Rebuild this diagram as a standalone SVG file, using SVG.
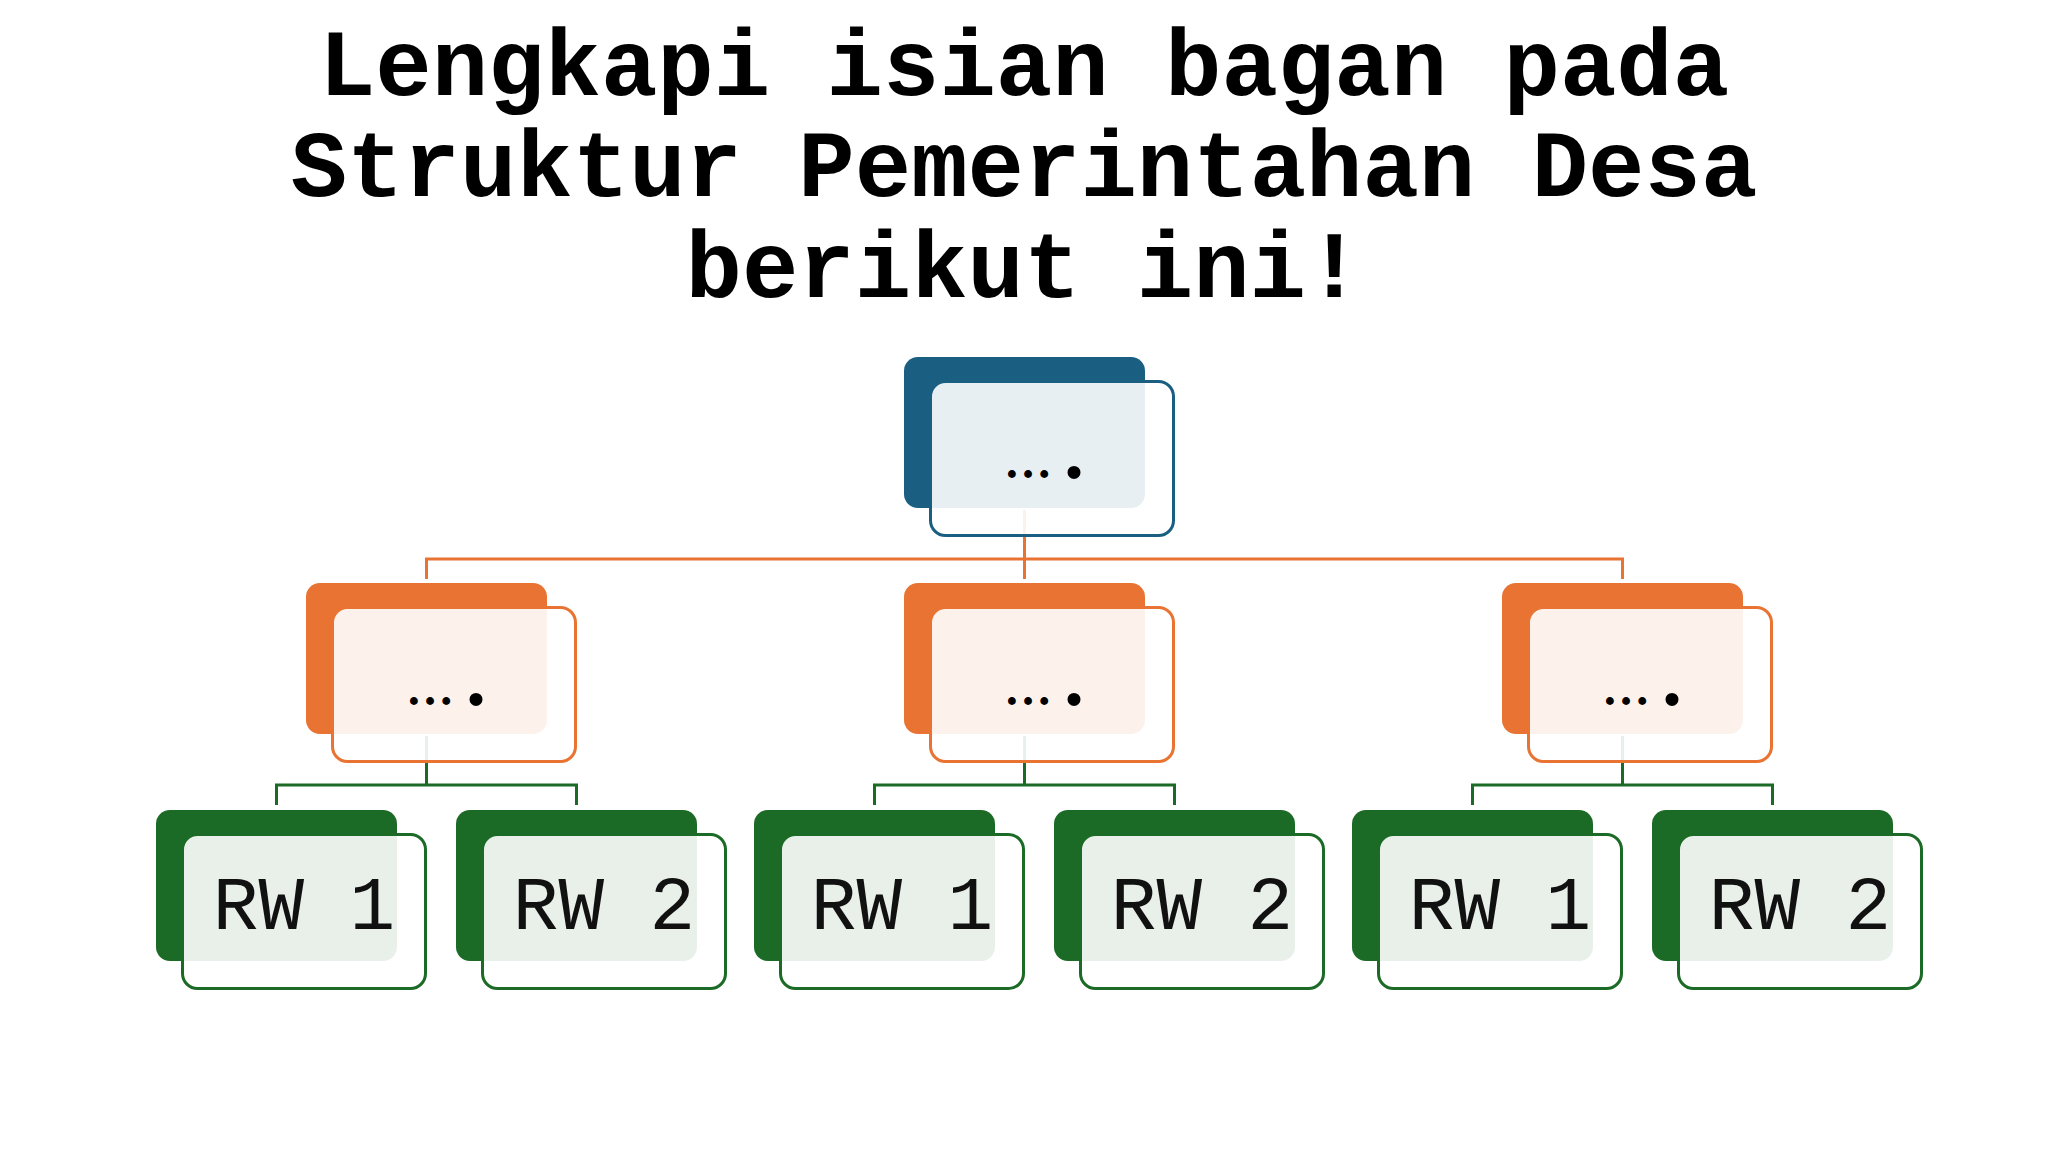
<svg xmlns="http://www.w3.org/2000/svg" width="2048" height="1152" viewBox="0 0 2048 1152">
<style>
.title{font-family:"Liberation Mono","Courier New",monospace;font-weight:bold;font-size:94px;fill:#000;text-anchor:middle}
.dots{font-family:"Liberation Serif","Times New Roman",serif;font-weight:bold;fill:#000}
.s{font-size:48px}
.b{font-size:80px}
.rw{font-family:"Liberation Mono","Courier New",monospace;font-size:76px;fill:#111;text-anchor:middle}
.front{fill:#fff;fill-opacity:0.9;stroke-width:3}
.blue .back{fill:#1a5f82}
.blue .front{stroke:#1a5f82}
.orange .back{fill:#e87332}
.orange .front{stroke:#e87332}
.green .back{fill:#1b6b26}
.green .front{stroke:#1b6b26}
.co{fill:none;stroke:#e87332;stroke-width:3}
.cg{fill:none;stroke:#1b6b26;stroke-width:3}
</style>
<rect width="2048" height="1152" fill="#fff"/>
<g id="title">
<text class="title" x="1024" y="95">Lengkapi isian bagan pada</text>
<text class="title" x="1024" y="196">Struktur Pemerintahan Desa</text>
<text class="title" x="1024" y="297">berikut ini!</text>
</g>
<g id="connectors">
<path class="co" d="M1024.5 510V559M426.5 579V559H1622.5V579M1024.5 559V579"/>
<path class="cg" d="M426.5 736V785M276.5 805V785H576.5V805"/>
<path class="cg" d="M1024.5 736V785M874.5 805V785H1174.5V805"/>
<path class="cg" d="M1622.5 736V785M1472.5 805V785H1772.5V805"/>
</g>
<g id="node-top" class="blue">
<rect class="back" x="904" y="357" width="241" height="151" rx="14"/>
<rect class="front" x="930.5" y="381.5" width="243" height="154" rx="15"/>
<text class="dots" y="478"><tspan class="s" x="1004">…</tspan><tspan class="b" x="1064">.</tspan></text>
</g>
<g id="node-mid-1" class="orange">
<rect class="back" x="306" y="583" width="241" height="151" rx="14"/>
<rect class="front" x="332.5" y="607.5" width="243" height="154" rx="15"/>
<text class="dots" y="705"><tspan class="s" x="406">…</tspan><tspan class="b" x="466">.</tspan></text>
</g>
<g id="node-mid-2" class="orange">
<rect class="back" x="904" y="583" width="241" height="151" rx="14"/>
<rect class="front" x="930.5" y="607.5" width="243" height="154" rx="15"/>
<text class="dots" y="705"><tspan class="s" x="1004">…</tspan><tspan class="b" x="1064">.</tspan></text>
</g>
<g id="node-mid-3" class="orange">
<rect class="back" x="1502" y="583" width="241" height="151" rx="14"/>
<rect class="front" x="1528.5" y="607.5" width="243" height="154" rx="15"/>
<text class="dots" y="705"><tspan class="s" x="1602">…</tspan><tspan class="b" x="1662">.</tspan></text>
</g>
<g id="node-rw-1a" class="green">
<rect class="back" x="156" y="810" width="241" height="151" rx="14"/>
<rect class="front" x="182.5" y="834.5" width="243" height="154" rx="15"/>
<text class="rw" x="304" y="929">RW 1</text>
</g>
<g id="node-rw-1b" class="green">
<rect class="back" x="456" y="810" width="241" height="151" rx="14"/>
<rect class="front" x="482.5" y="834.5" width="243" height="154" rx="15"/>
<text class="rw" x="604" y="929">RW 2</text>
</g>
<g id="node-rw-2a" class="green">
<rect class="back" x="754" y="810" width="241" height="151" rx="14"/>
<rect class="front" x="780.5" y="834.5" width="243" height="154" rx="15"/>
<text class="rw" x="902" y="929">RW 1</text>
</g>
<g id="node-rw-2b" class="green">
<rect class="back" x="1054" y="810" width="241" height="151" rx="14"/>
<rect class="front" x="1080.5" y="834.5" width="243" height="154" rx="15"/>
<text class="rw" x="1202" y="929">RW 2</text>
</g>
<g id="node-rw-3a" class="green">
<rect class="back" x="1352" y="810" width="241" height="151" rx="14"/>
<rect class="front" x="1378.5" y="834.5" width="243" height="154" rx="15"/>
<text class="rw" x="1500" y="929">RW 1</text>
</g>
<g id="node-rw-3b" class="green">
<rect class="back" x="1652" y="810" width="241" height="151" rx="14"/>
<rect class="front" x="1678.5" y="834.5" width="243" height="154" rx="15"/>
<text class="rw" x="1800" y="929">RW 2</text>
</g>
</svg>
